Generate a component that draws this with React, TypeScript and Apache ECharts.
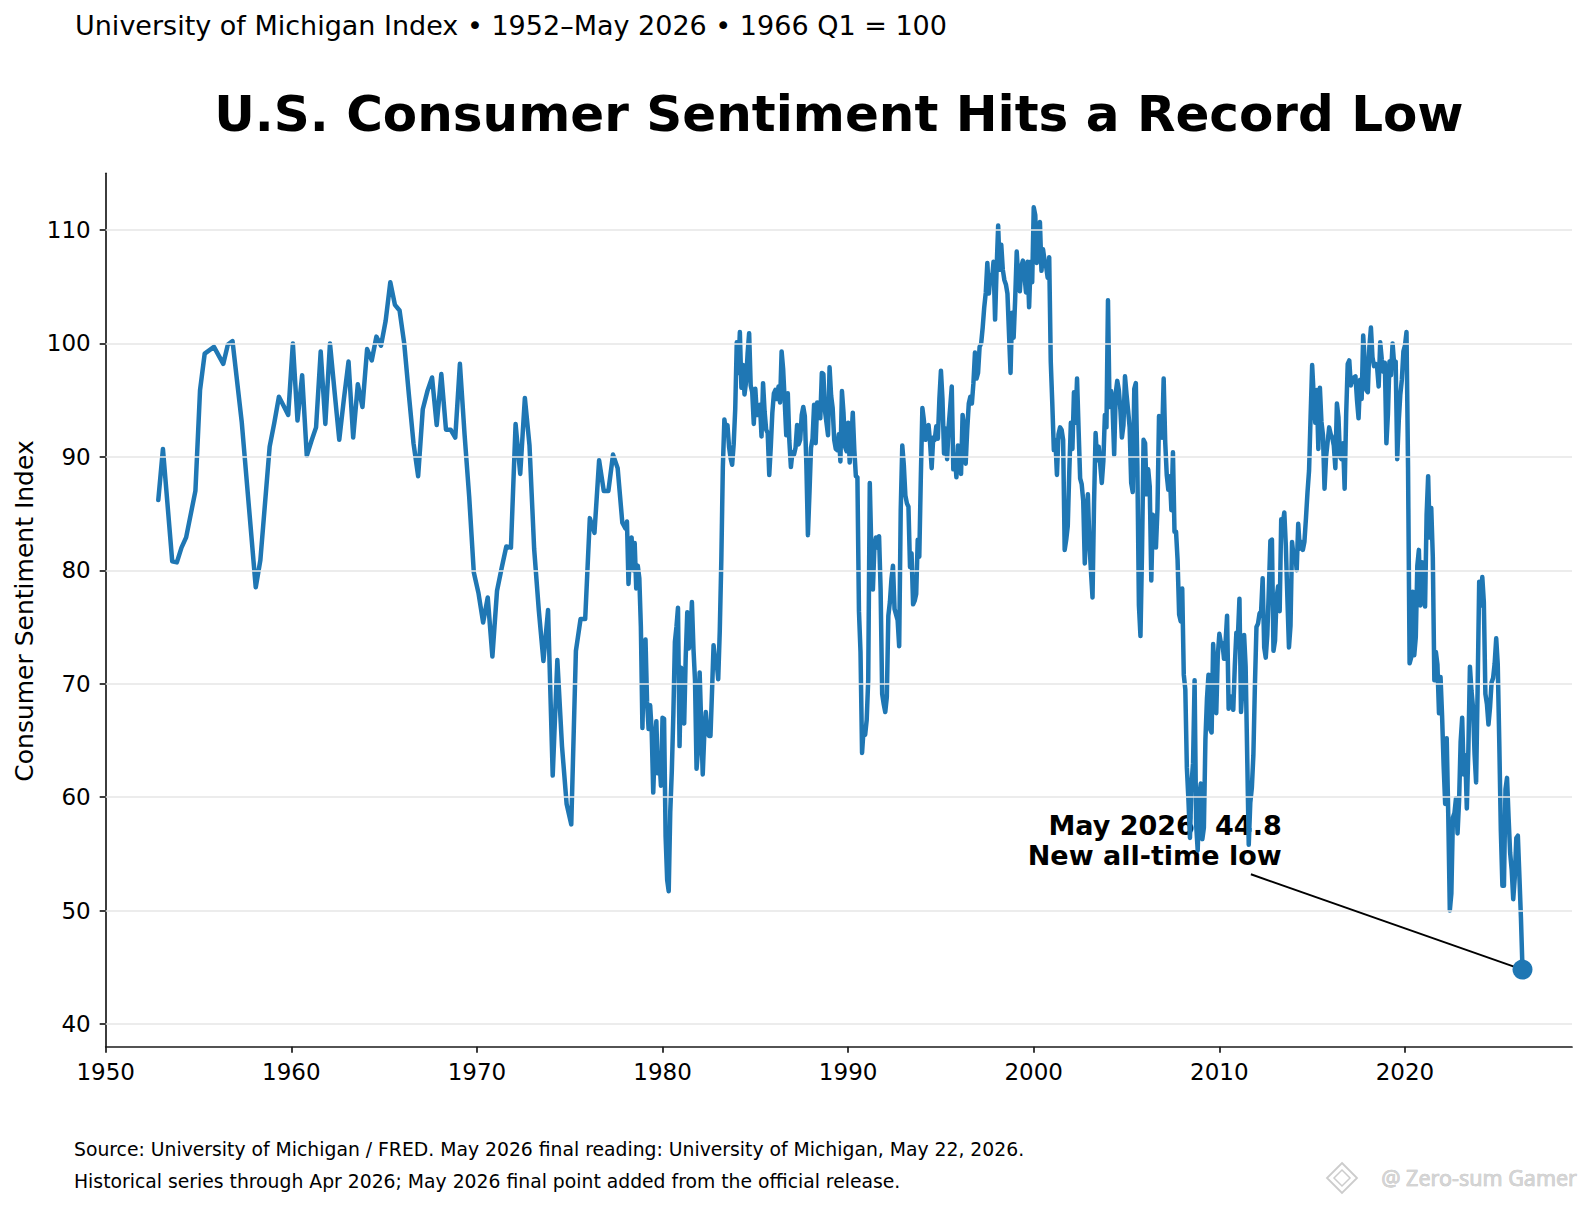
import React, { useEffect, useRef } from "react";
import * as echarts from "echarts";

// ---- Data: University of Michigan Consumer Sentiment (1966 Q1 = 100) ----
// Early period (quarterly / irregular readings)
const EARLY_DATES = [
  "1952-11", "1953-02", "1953-08", "1953-11", "1954-02", "1954-05", "1954-11",
  "1955-02", "1955-05", "1955-11", "1956-05", "1956-08", "1956-11", "1957-05",
  "1958-02", "1958-05", "1958-11", "1959-02", "1959-05", "1959-08", "1959-11",
  "1960-02", "1960-05", "1960-08", "1960-11", "1961-02", "1961-05", "1961-08", "1961-11",
  "1962-02", "1962-05", "1962-08", "1962-11", "1963-02", "1963-05", "1963-08", "1963-11",
  "1964-02", "1964-05", "1964-08", "1964-11", "1965-02", "1965-05", "1965-08", "1965-11",
  "1966-02", "1966-05", "1966-08", "1966-11", "1967-02", "1967-05", "1967-08", "1967-11",
  "1968-02", "1968-05", "1968-08", "1968-11", "1969-02", "1969-05", "1969-08", "1969-11",
  "1970-02", "1970-05", "1970-08", "1970-11", "1971-02", "1971-05", "1971-08", "1971-11",
  "1972-02", "1972-05", "1972-08", "1972-11", "1973-02", "1973-05", "1973-08", "1973-11",
  "1974-02", "1974-05", "1974-08", "1974-11", "1975-02", "1975-05", "1975-08", "1975-11",
  "1976-02", "1976-05", "1976-08", "1976-11", "1977-02", "1977-05", "1977-08", "1977-11",
];
const EARLY_VALUES = [
  86.2, 90.7, 80.8, 80.7, 82.0, 82.9, 87.0,
  95.9, 99.1, 99.7, 98.2, 99.9, 100.2, 93.0,
  78.5, 80.9, 90.9, 93.0, 95.3, 94.5, 93.7,
  100.0, 93.2, 97.2, 90.1, 91.4, 92.6, 99.3, 92.9,
  100.0, 95.7, 91.5, 95.1, 98.4, 91.7, 96.4, 94.4,
  99.5, 98.5, 100.6, 99.8, 102.0, 105.4, 103.4, 102.9,
  100.0, 95.5, 91.2, 88.3, 94.2, 95.8, 97.0, 92.8,
  97.3, 92.4, 92.4, 91.7, 98.2, 92.0, 86.5, 79.8,
  78.0, 75.4, 77.6, 72.4, 78.2, 80.2, 82.1, 82.0,
  92.9, 88.5, 95.2, 91.0, 81.9, 76.5, 72.0, 76.5,
  61.9, 72.1, 64.5, 59.4, 57.6, 72.9, 75.7, 75.7,
  84.6, 83.3, 89.7, 87.0, 87.0, 90.2, 89.0, 84.2,
];

// Monthly readings from January 1978 onward
const MONTHLY_START_YEAR = 1978;
const MONTHLY_1978_1989 = [
  83.7, 84.3, 78.8, 81.6, 82.9, 80.0, 82.4, 78.4, 80.4, 79.3, 75.0, 66.1,
  72.1, 73.9, 68.4, 66.0, 68.1, 65.8, 60.4, 64.5, 66.7, 62.1, 63.3, 61.0,
  67.0, 66.9, 56.5, 52.7, 51.7, 58.7, 62.3, 67.3, 73.7, 75.0, 76.7, 64.5,
  71.4, 66.9, 66.5, 72.4, 76.3, 73.1, 74.1, 77.2, 73.1, 70.3, 62.5, 64.3,
  71.0, 66.5, 62.0, 65.5, 67.5, 65.7, 65.4, 65.4, 69.3, 73.4, 72.1, 71.9,
  70.4, 74.6, 80.8, 89.1, 93.3, 92.2, 92.8, 90.9, 89.9, 89.3, 91.1, 94.2,
  100.1, 97.4, 101.0, 96.1, 98.1, 95.5, 96.6, 99.1, 100.9, 96.3, 95.7, 92.9,
  96.0, 93.7, 93.7, 94.6, 91.8, 96.5, 94.0, 92.4, 92.1, 88.4, 90.9, 93.9,
  95.6, 95.9, 95.1, 96.2, 94.8, 99.3, 97.7, 94.9, 91.9, 95.6, 91.4, 89.1,
  90.4, 90.2, 90.8, 92.8, 91.1, 91.5, 93.7, 94.4, 93.6, 89.3, 83.1, 86.8,
  90.8, 91.6, 94.6, 91.2, 94.8, 94.7, 93.4, 97.4, 97.3, 94.1, 93.0, 91.9,
  97.9, 95.4, 94.3, 91.5, 90.7, 90.6, 92.0, 89.6, 95.8, 93.9, 90.9, 90.5,
];
const MONTHLY_1990_1999 = [
  93.0, 89.5, 91.3, 93.9, 90.6, 88.3, 88.2, 76.4, 72.8, 63.9, 66.0, 65.5,
  66.8, 70.4, 87.7, 81.8, 78.3, 82.1, 82.9, 82.0, 83.0, 78.3, 69.1, 68.2,
  67.5, 68.8, 76.0, 77.2, 79.2, 80.4, 76.6, 76.1, 75.6, 73.3, 85.3, 91.0,
  89.3, 86.6, 85.9, 85.6, 80.3, 81.5, 77.0, 77.3, 77.9, 82.7, 81.2, 88.2,
  94.3, 93.2, 91.5, 92.6, 92.8, 91.2, 89.0, 91.7, 91.5, 92.7, 91.6, 95.1,
  97.6, 95.1, 90.3, 92.5, 89.8, 92.7, 94.4, 96.2, 88.9, 90.2, 88.2, 91.0,
  89.3, 88.5, 93.7, 92.7, 89.4, 92.4, 94.7, 95.3, 94.7, 96.5, 99.2, 96.9,
  97.4, 99.7, 100.0, 101.4, 103.2, 104.5, 107.1, 104.4, 106.0, 105.6, 107.2, 102.1,
  106.6, 110.4, 106.5, 108.7, 106.5, 105.6, 105.2, 104.4, 100.9, 97.4, 102.7, 100.5,
  103.9, 108.1, 105.7, 104.6, 106.8, 107.3, 106.0, 104.5, 107.2, 103.2, 107.2, 105.4,
];
const MONTHLY_2000_2009 = [
  112.0, 111.3, 107.1, 109.2, 110.7, 106.4, 108.3, 107.3, 106.8, 105.8, 107.6, 98.4,
  94.7, 90.6, 91.5, 88.4, 92.0, 92.6, 92.4, 91.5, 81.8, 82.7, 83.9, 88.8,
  93.0, 90.7, 95.7, 93.0, 96.9, 92.4, 88.1, 87.6, 86.1, 80.6, 84.2, 86.7,
  82.4, 79.9, 77.6, 86.0, 92.1, 89.7, 90.9, 89.3, 87.7, 89.6, 93.7, 92.6,
  103.8, 94.4, 95.8, 94.2, 90.2, 95.6, 96.7, 95.9, 94.2, 91.7, 92.8, 97.1,
  95.5, 94.1, 92.6, 87.7, 86.9, 96.0, 96.5, 89.1, 76.9, 74.2, 81.6, 91.5,
  91.2, 86.7, 88.9, 87.4, 79.1, 84.9, 84.7, 82.0, 85.4, 93.6, 92.1, 91.7,
  96.9, 91.3, 88.4, 87.1, 88.3, 85.3, 90.4, 83.4, 83.4, 80.9, 76.1, 75.5,
  78.4, 70.8, 69.5, 62.6, 59.8, 56.4, 61.2, 63.0, 70.3, 57.6, 55.3, 60.1,
  61.2, 56.3, 57.3, 65.1, 68.7, 70.8, 66.0, 65.7, 73.5, 70.6, 67.4, 72.5,
];
const MONTHLY_2010_2019 = [
  74.4, 73.6, 73.6, 72.2, 73.6, 76.0, 67.8, 68.9, 68.2, 67.7, 71.6, 74.5,
  74.2, 77.5, 67.5, 69.8, 74.3, 71.5, 63.7, 55.8, 59.5, 60.8, 63.7, 69.9,
  75.0, 75.3, 76.2, 76.4, 79.3, 73.2, 72.3, 74.3, 78.3, 82.6, 82.7, 72.9,
  73.8, 77.6, 78.6, 76.4, 84.5, 84.1, 85.1, 82.1, 77.5, 73.2, 75.1, 82.5,
  81.2, 81.6, 80.0, 84.1, 81.9, 82.5, 81.8, 82.5, 84.6, 86.9, 88.8, 93.6,
  98.1, 95.4, 93.0, 95.9, 90.7, 96.1, 93.1, 91.9, 87.2, 90.0, 91.3, 92.6,
  92.0, 91.7, 91.0, 89.0, 94.7, 93.5, 90.0, 89.8, 91.2, 87.2, 93.8, 98.2,
  98.5, 96.3, 96.9, 97.0, 97.1, 95.0, 93.4, 96.8, 95.1, 100.7, 98.5, 95.9,
  95.7, 99.7, 101.4, 98.8, 98.0, 98.2, 97.9, 96.2, 100.1, 98.6, 97.5, 98.3,
  91.2, 93.8, 98.4, 97.2, 100.0, 98.2, 98.4, 89.8, 93.2, 95.5, 96.8, 99.3,
];
const MONTHLY_2020_2026 = [
  99.8, 101.0, 89.1, 71.8, 72.3, 78.1, 72.5, 74.1, 80.4, 81.8, 76.9, 80.7,
  79.0, 76.8, 84.9, 88.3, 82.9, 85.5, 81.2, 70.3, 72.8, 71.7, 67.4, 70.6,
  67.2, 62.8, 59.4, 65.2, 58.4, 50.0, 51.5, 58.2, 58.6, 59.9, 56.8, 59.7,
  64.9, 67.0, 62.0, 63.7, 59.0, 64.2, 71.5, 69.4, 67.9, 63.8, 61.3, 69.7,
  79.0, 76.9, 79.4, 77.2, 69.1, 68.2, 66.4, 67.9, 70.1, 70.5, 71.8, 74.0,
  71.7, 64.7, 57.0, 52.2, 52.2, 60.7, 61.7, 58.2, 55.1, 53.6, 51.0, 52.9,
  56.4, 56.6, 53.0, 49.3, 44.8,
];

const X_TICKS = [1950, 1960, 1970, 1980, 1990, 2000, 2010, 2020];
const Y_TICKS = [40, 50, 60, 70, 80, 90, 100, 110];
const X_RANGE = [1950, 2029];
const Y_RANGE = [38, 115];
const ANNOTATION_LINE_START = [2011.7, 53.2];

const TITLE = "U.S. Consumer Sentiment Hits a Record Low";
const SUBTITLE = "University of Michigan Index \u2022 1952\u2013May 2026 \u2022 1966 Q1 = 100";
const Y_LABEL = "Consumer Sentiment Index";
const ANNOTATION_LINES = ["May 2026: 44.8", "New all-time low"];
const FOOTNOTES = [
  "Source: University of Michigan / FRED. May 2026 final reading: University of Michigan, May 22, 2026.",
  "Historical series through Apr 2026; May 2026 final point added from the official release.",
];
const WATERMARK = "@ Zero-sum Gamer";

const BLUE = "#1f77b4";
const FONT = "DejaVu Sans, Verdana, sans-serif";

function dateToYear(s: string): number {
  const [y, m] = s.split("-").map(Number);
  return y + (m - 1) / 12;
}

function buildSeries(): [number, number][] {
  const pts: [number, number][] = EARLY_DATES.map((d, i) => [dateToYear(d), EARLY_VALUES[i]]);
  const monthly = [
    ...MONTHLY_1978_1989,
    ...MONTHLY_1990_1999,
    ...MONTHLY_2000_2009,
    ...MONTHLY_2010_2019,
    ...MONTHLY_2020_2026,
  ];
  monthly.forEach((v, i) => {
    pts.push([MONTHLY_START_YEAR + i / 12, v]);
  });
  return pts;
}

function txt(text: string, x: number, y: number, size: number, opts: any = {}) {
  return {
    type: "text",
    x,
    y,
    rotation: opts.rotation || 0,
    z: opts.z ?? 1,
    silent: true,
    style: {
      text,
      fontSize: size,
      fontFamily: opts.family || FONT,
      fontWeight: opts.bold ? "bold" : "normal",
      fill: opts.color || "#000",
      stroke: opts.stroke,
      lineWidth: opts.stroke ? 0.6 : 0,
      align: opts.align || "left",
      verticalAlign: "middle",
      textAlign: opts.align || "left",
      textVerticalAlign: "middle",
    },
  };
}

export default function App() {
  const ref = useRef<HTMLDivElement>(null);

  useEffect(() => {
    if (!ref.current) return;
    const chart = echarts.init(ref.current, null, { renderer: "svg" });
    const data = buildSeries();
    const last = data[data.length - 1];

    const W = 1587;
    const gridLeft = 105.7;
    const gridRight = 15;
    const gridTop = 173.3;
    const gridBottom = 159.3;
    const plotCenterX = gridLeft + (W - gridLeft - gridRight) / 2;

    const axisLineStyle = { color: "#1a1a1a", width: 1.7 };

    const option: any = {
      animation: false,
      backgroundColor: "#ffffff",
      textStyle: { fontFamily: FONT },
      grid: { left: gridLeft, right: gridRight, top: gridTop, bottom: gridBottom, containLabel: false },
      xAxis: {
        type: "value",
        min: X_RANGE[0],
        max: X_RANGE[1],
        axisLine: { show: true, onZero: false, lineStyle: axisLineStyle },
        axisTick: { show: true, length: 6, customValues: X_TICKS, lineStyle: axisLineStyle },
        axisLabel: {
          customValues: X_TICKS,
          fontSize: 23,
          color: "#000",
          margin: 14,
          fontFamily: FONT,
          formatter: (v: number) => String(v),
        },
        splitLine: { show: false },
      },
      yAxis: {
        type: "value",
        min: Y_RANGE[0],
        max: Y_RANGE[1],
        axisLine: { show: true, onZero: false, lineStyle: axisLineStyle },
        axisTick: { show: true, length: 6, customValues: Y_TICKS, lineStyle: axisLineStyle },
        axisLabel: {
          customValues: Y_TICKS,
          fontSize: 23,
          color: "#000",
          margin: 15,
          fontFamily: FONT,
          formatter: (v: number) => String(v),
        },
        splitLine: { show: false },
      },
      series: [
        {
          // horizontal grid lines
          type: "line",
          data: [],
          z: 1,
          silent: true,
          markLine: {
            silent: true,
            symbol: ["none", "none"],
            label: { show: false },
            lineStyle: { color: "#e6e6e6", width: 1.6, type: "solid" },
            data: Y_TICKS.map((v) => ({ yAxis: v })),
          },
        },
        {
          type: "line",
          data,
          z: 3,
          showSymbol: false,
          symbol: "none",
          silent: true,
          lineStyle: { color: BLUE, width: 4.5, join: "round", cap: "round" },
          markLine: {
            silent: true,
            symbol: ["none", "none"],
            label: { show: false },
            lineStyle: { color: "#000", width: 2, type: "solid" },
            data: [[{ coord: ANNOTATION_LINE_START }, { coord: last }]],
          },
        },
        {
          type: "scatter",
          data: [last],
          z: 5,
          silent: true,
          symbol: "circle",
          symbolSize: 20,
          itemStyle: { color: BLUE, opacity: 1 },
        },
      ],
      graphic: [
        txt(SUBTITLE, 75, 25.7, 27),
        txt(TITLE, plotCenterX, 113.7, 50, { bold: true, align: "center" }),
        txt(Y_LABEL, 24.8, 611, 25, { rotation: Math.PI / 2, align: "center" }),
        txt(ANNOTATION_LINES[0], 1281.7, 825, 27, { bold: true, align: "right", z: 0 }),
        txt(ANNOTATION_LINES[1], 1281.7, 855, 27, { bold: true, align: "right", z: 0 }),
        txt(FOOTNOTES[0], 74, 1149.5, 18.8),
        txt(FOOTNOTES[1], 74, 1181.8, 18.8),
        txt(WATERMARK, 1577, 1177, 21.5, { align: "right", color: "#d4d4d4", stroke: "#b8b8b8", family: "Noto Sans, DejaVu Sans, sans-serif" }),
        {
          type: "polygon",
          silent: true,
          shape: { points: [[1342, 1163], [1357, 1178], [1342, 1193], [1327, 1178]] },
          style: { fill: "none", stroke: "#cccccc", lineWidth: 1.8 },
        },
        {
          type: "polygon",
          silent: true,
          shape: { points: [[1342, 1170], [1350, 1178], [1342, 1186], [1334, 1178]] },
          style: { fill: "none", stroke: "#cccccc", lineWidth: 1.5 },
        },
      ],
    };

    chart.setOption(option);
    return () => chart.dispose();
  }, []);

  return (
    <div
      ref={ref}
      style={{ position: "absolute", left: 0, top: 0, width: 1587, height: 1206, background: "#fff" }}
    />
  );
}
